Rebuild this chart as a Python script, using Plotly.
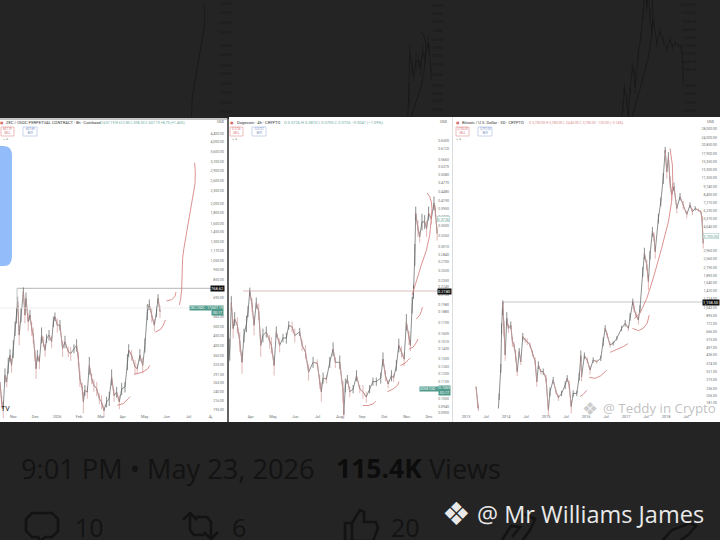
import math
import plotly.graph_objects as go

##### Chart values

# ZEC / USDC, x is months after Nov 1
zec_months = [-0.61, -0.53, -0.46, -0.38, -0.30, -0.23, -0.15, -0.08, 0, 0.08, 0.15, 0.20, 0.27, 0.35, 0.46, 0.53, 0.58, 0.68, 0.76, 0.84, 0.91, 0.99, 1.04, 1.10, 1.19, 1.29, 1.37, 1.45, 1.52, 1.63, 1.75, 1.83, 1.90, 2.01, 2.13, 2.25, 2.36, 2.51, 2.62, 2.77, 2.89, 2.97, 3.04, 3.15, 3.20, 3.27, 3.38, 3.47, 3.58, 3.68, 3.81, 3.93, 4.03, 4.14, 4.26, 4.38, 4.49, 4.60, 4.72, 4.84, 4.95, 5.10, 5.21, 5.27, 5.40, 5.56, 5.66, 5.78, 5.91, 6.01, 6.12, 6.21, 6.32, 6.44, 6.54, 6.61, 6.70]
zec_price = [267, 213, 197, 288, 267, 322, 361, 322, 389, 488, 568, 660, 453, 568, 740, 568, 685, 527, 568, 488, 453, 361, 310, 361, 335, 453, 420, 382, 436, 453, 420, 527, 557, 507, 507, 389, 420, 375, 368, 389, 404, 348, 277, 247, 213, 243, 238, 322, 277, 257, 247, 221, 213, 193, 213, 221, 282, 229, 238, 213, 247, 252, 335, 382, 361, 316, 310, 361, 322, 404, 590, 640, 568, 507, 590, 685, 590]
# wick size around each point, percent of price
zec_wick = [9, 7, 10, 8, 6, 9, 7, 8, 10, 8, 9, 6, 11, 8, 5, 9, 7, 10, 6, 8, 9, 7, 11, 6, 8, 9, 6, 7, 5, 6, 7, 6, 5, 8, 6, 9, 7, 6, 8, 5, 7, 8, 9, 7, 12, 6, 7, 10, 6, 7, 8, 6, 8, 7, 6, 8, 9, 7, 6, 8, 7, 6, 9, 7, 6, 8, 6, 7, 9, 8, 9, 6, 8, 7, 6, 5, 7]
zec_curves = [
    ([4.75, 5.02, 5.25, 5.33], [205, 209, 221, 226]),
    ([5.51, 5.86, 6.12, 6.24], [291, 297, 308, 322]),
    ([6.48, 6.73, 6.85, 6.94], [468, 484, 507, 537]),
    ([6.99, 7.23, 7.38, 7.43], [666, 676, 700, 737]),
    ([7.58, 7.64, 7.69, 7.73, 7.79, 7.99, 8.14, 8.30, 8.31, 8.28], [637, 675, 768, 1077, 1206, 1630, 2044, 2512, 2865, 3173]),
]
zec_ticks = [4400, 4000, 3600, 3200, 2900, 2600, 2300, 2000, 1800, 1600, 1450, 1300, 1170, 1050, 950, 850, 690, 560, 500, 450, 400, 360, 325, 291, 265, 240, 216, 195]
zec_months_ticks = [0, 1, 2, 3, 4, 5, 6, 7, 8, 9, 9.45]
zec_months_text = ["Nov", "Dec", "2026", "Feb", "Mar", "Apr", "May", "Jun", "Jul", "Aj", "Q"]

# DOGE / USD, x is months after Apr 1
doge_months = [-1.02, -0.94, -0.87, -0.79, -0.72, -0.60, -0.49, -0.39, -0.30, -0.19, -0.12, -0.04, 0.06, 0.15, 0.25, 0.36, 0.45, 0.55, 0.70, 0.85, 0.93, 1.05, 1.15, 1.30, 1.45, 1.60, 1.71, 1.86, 1.98, 2.20, 2.31, 2.46, 2.60, 2.80, 2.99, 3.10, 3.17, 3.25, 3.40, 3.55, 3.70, 3.80, 4.00, 4.15, 4.18, 4.25, 4.34, 4.45, 4.60, 4.75, 4.90, 5.04, 5.19, 5.34, 5.49, 5.64, 5.84, 5.94, 6.05, 6.17, 6.32, 6.42, 6.54, 6.65, 6.77, 6.89, 6.99, 7.11, 7.17, 7.25, 7.31, 7.37, 7.41, 7.51, 7.59, 7.69, 7.81, 7.90, 7.99, 8.11, 8.23, 8.29, 8.37]
doge_price = [0.124, 0.143, 0.200, 0.166, 0.178, 0.170, 0.151, 0.130, 0.158, 0.172, 0.188, 0.217, 0.197, 0.170, 0.200, 0.188, 0.147, 0.158, 0.162, 0.151, 0.147, 0.127, 0.162, 0.147, 0.155, 0.155, 0.170, 0.168, 0.158, 0.162, 0.147, 0.140, 0.121, 0.130, 0.129, 0.113, 0.105, 0.116, 0.115, 0.130, 0.143, 0.130, 0.130, 0.105, 0.089, 0.110, 0.115, 0.105, 0.107, 0.118, 0.107, 0.105, 0.101, 0.107, 0.113, 0.113, 0.116, 0.133, 0.118, 0.111, 0.118, 0.116, 0.127, 0.147, 0.140, 0.133, 0.174, 0.155, 0.147, 0.197, 0.217, 0.284, 0.383, 0.343, 0.323, 0.360, 0.360, 0.343, 0.383, 0.368, 0.412, 0.390, 0.331]
doge_wick = [6, 8, 5, 7, 5, 6, 7, 8, 5, 6, 4, 3, 5, 7, 4, 6, 8, 5, 4, 5, 6, 7, 4, 5, 3, 4, 3, 4, 5, 3, 4, 5, 6, 4, 3, 5, 7, 4, 3, 4, 5, 4, 5, 8, 3, 5, 3, 4, 3, 4, 3, 5, 4, 3, 3, 3, 4, 5, 4, 3, 4, 3, 4, 5, 4, 5, 6, 5, 4, 6, 5, 8, 5, 6, 4, 6, 5, 6, 5, 4, 5, 4, 5]
doge_curves = [
    ([5.04, 5.27, 5.49, 5.61], [0.095, 0.095, 0.096, 0.098]),
    ([6.14, 6.39, 6.59, 6.66], [0.105, 0.107, 0.110, 0.113]),
    ([6.72, 6.92, 7.07, 7.16], [0.127, 0.129, 0.132, 0.134]),
    ([7.11, 7.29, 7.44, 7.51], [0.143, 0.145, 0.150, 0.154]),
    ([7.44, 7.59, 7.66, 7.71], [0.178, 0.183, 0.188, 0.194]),
    ([7.25, 7.44, 7.66, 7.89, 8.04, 8.11, 8.14, 8.11, 8.04, 7.92], [0.212, 0.235, 0.263, 0.293, 0.328, 0.368, 0.397, 0.416, 0.432, 0.444]),
]
doge_ticks = [0.65, 0.612, 0.566, 0.537, 0.508, 0.477, 0.448, 0.419, 0.395, 0.373, 0.35, 0.326, 0.301, 0.284, 0.27, 0.253, 0.235, 0.224, 0.212, 0.198, 0.188, 0.173, 0.16, 0.151, 0.143, 0.133, 0.126, 0.12, 0.113, 0.1, 0.094, 0.09]
doge_months_ticks = [-1, 0, 1, 2, 3, 4, 5, 6, 7, 8]
doge_months_text = ["Mar", "Apr", "May", "Jun", "Jul", "Aug", "Sep", "Oct", "Nov", "Dec"]

# BTC / USD, x is the year
btc_years = [2013.25, 2013.29, 2013.31, 2013.50, 2013.81, 2013.83, 2013.87, 2013.89, 2013.91, 2013.92, 2013.95, 2013.98, 2014.02, 2014.06, 2014.12, 2014.16, 2014.20, 2014.24, 2014.28, 2014.33, 2014.37, 2014.42, 2014.48, 2014.53, 2014.60, 2014.66, 2014.73, 2014.77, 2014.81, 2014.87, 2014.93, 2015.00, 2015.06, 2015.10, 2015.18, 2015.25, 2015.31, 2015.39, 2015.48, 2015.53, 2015.58, 2015.63, 2015.68, 2015.77, 2015.83, 2015.87, 2015.89, 2015.96, 2016.03, 2016.10, 2016.18, 2016.27, 2016.37, 2016.43, 2016.48, 2016.53, 2016.60, 2016.68, 2016.77, 2016.89, 2016.98, 2017.06, 2017.10, 2017.17, 2017.20, 2017.25, 2017.31, 2017.35, 2017.42, 2017.46, 2017.52, 2017.56, 2017.60, 2017.66, 2017.70, 2017.73, 2017.81, 2017.87, 2017.93, 2017.98, 2018.02, 2018.06, 2018.10, 2018.14, 2018.20, 2018.27, 2018.35, 2018.43, 2018.52, 2018.60, 2018.66, 2018.73, 2018.81, 2018.87, 2018.90, 2018.93]
btc_price = [244, 174, 163, None, 163, 203, 342, 713, 969, 1158, 713, 436, 858, 713, 758, 558, 525, 436, 321, 464, 386, 612, 575, 558, 525, 450, 386, 267, 363, 321, 321, 284, 158, 222, 275, 222, 199, 215, 251, 284, 251, 169, 215, 215, 293, 431, 293, 431, 398, 331, 398, 386, 411, 558, 713, 631, 525, 541, 593, 713, 783, 713, 884, 1164, 1031, 911, 831, 1031, 2024, 2837, 2289, 1684, 2751, 4227, 3855, 2926, 5405, 7346, 11290, 19030, 12750, 16800, 10620, 8306, 9685, 6496, 8060, 6910, 5816, 6910, 6113, 6496, 6300, 6113, 5405, 3410]
btc_wick = [8, 6, 5, 0, 4, 6, 8, 10, 6, 3, 14, 10, 12, 8, 7, 9, 6, 10, 8, 7, 6, 7, 5, 6, 5, 6, 8, 9, 7, 5, 6, 7, 10, 8, 6, 5, 6, 5, 7, 6, 8, 12, 6, 5, 7, 10, 8, 6, 5, 8, 5, 4, 5, 8, 6, 5, 5, 4, 4, 5, 6, 5, 7, 6, 7, 6, 8, 6, 9, 11, 10, 14, 8, 9, 8, 12, 9, 8, 10, 6, 12, 9, 11, 10, 8, 9, 7, 8, 7, 5, 6, 4, 3, 3, 5, 9]
btc_curves = [
    ([2015.85, 2015.93, 2016.02], [203, 211, 228]),
    ([2016.08, 2016.23, 2016.37, 2016.52], [289, 284, 298, 331]),
    ([2016.60, 2016.77, 2016.93, 2017.05], [458, 484, 509, 538]),
    ([2017.16, 2017.31, 2017.43, 2017.53, 2017.58], [713, 684, 713, 783, 911]),
    ([2017.21, 2017.35, 2017.52, 2017.68, 2017.89, 2018.06, 2018.14, 2018.17, 2018.16, 2018.10], [858, 940, 1239, 1790, 3110, 5083, 7346, 10620, 14440, 19620]),
]
btc_ticks = [28000, 24000, 20850, 17900, 15350, 13300, 11350, 9740, 8400, 7210, 6230, 5370, 4640, 3980, 2960, 2560, 2190, 1890, 1640, 1420, 1224, 1043, 895, 772, 666, 575, 497, 436, 374, 321, 275, 236, 206, 181]
btc_years_ticks = [2013, 2013.5, 2014, 2014.5, 2015, 2015.5, 2016, 2016.5, 2017, 2017.5, 2018, 2018.5]
btc_years_text = ["2013", "Jul", "2014", "Jul", "2015", "Jul", "2016", "Jul", "2017", "Jul", "2018", "Jul"]

# Resistance levels and last prices
zec_level, zec_level_start = 768.62, 0.18
doge_level, doge_level_start = 0.218, -0.34
btc_level, btc_level_start = 1158.5, 2013.92
zec_last = 607.19

##### Colours and page geometry
W, H = 720, 540
DARK = "#242424"
GHOST = "#171717"
INK = "#5a5f5f"
PINK = "#d79a9a"
CURVE = "#d98585"
TICK = "#6b6f70"
GREEN = "#4f9a8b"


def fx(px):
    return px / W


def fy(py):
    return 1 - py / H


def poly(points, closed=False):
    s = "M " + " L ".join(f"{fx(x):.5f},{fy(y):.5f}" for x, y in points)
    return s + (" Z" if closed else "")


def falling(xs, ys):
    # Only the down moves, these show up pink in the original candles
    out_x, out_y = [], []
    for i in range(1, len(xs)):
        if ys[i] is None or ys[i - 1] is None:
            continue
        if ys[i] < ys[i - 1]:
            out_x += [xs[i - 1], xs[i], None]
            out_y += [ys[i - 1], ys[i], None]
    return out_x, out_y


def wicks(xs, ys, sizes, want_down):
    # Vertical wick at each point, split by direction of the move into it
    out_x, out_y = [], []
    for i in range(1, len(xs)):
        if ys[i] is None or ys[i - 1] is None:
            continue
        if (ys[i] < ys[i - 1]) == want_down:
            out_x += [xs[i], xs[i], None]
            out_y += [ys[i] * (1 - sizes[i] / 100), ys[i] * (1 + sizes[i] / 100), None]
    return out_x, out_y


# px = x0 + x_scale * x, log10(price) = y_ref - (py - py_ref) * y_scale
panels = [
    dict(name="zec", left=0, right=227, xs=zec_months, ys=zec_price, wick=zec_wick, curves=zec_curves, ticks=zec_ticks,
         xt=zec_months_ticks, xl=zec_months_text, x0=13.3, xk=21.9, ref=math.log10(768.62), py_ref=288.3,
         yk=0.004905, fmt=lambda v: f"{v:,.2f}", level=zec_level, start=zec_level_start, level_color="#c4c4c4",
         ghost=(0, 235, 9.5, -158)),
    dict(name="doge", left=229, right=452, xs=doge_months, ys=doge_price, wick=doge_wick, curves=doge_curves, ticks=doge_ticks,
         xt=doge_months_ticks, xl=doge_months_text, x0=250.7, xk=22.27, ref=math.log10(0.218), py_ref=291,
         yk=0.00315, fmt=lambda v: f"{v:.4f}", level=doge_level, start=doge_level_start, level_color="#dcbcbc",
         ghost=(235, 446, -6, -161)),
    dict(name="btc", left=453, right=720, xs=btc_years, ys=btc_price, wick=btc_wick, curves=btc_curves, ticks=btc_ticks,
         xt=btc_years_ticks, xl=btc_years_text, x0=506 - 2014 * 40, xk=40.0, ref=math.log10(1158.5), py_ref=302,
         yk=0.008, fmt=lambda v: f"{v:,.2f}", level=btc_level, start=btc_level_start, level_color="#c8c8c8",
         ghost=(446, 699, -20, -165)),
]

TOP, BOTTOM = 119, 422
GHOST_BOTTOM = 117

fig = go.Figure()
axes = {}
n = 1


def add_line(xs, ys, color, width, xa, ya):
    fig.add_trace(go.Scatter(x=xs, y=ys, mode="lines", line=dict(color=color, width=width), xaxis=xa, yaxis=ya,
                             hoverinfo="skip", showlegend=False, connectgaps=False))


for p in panels:
    # visible chart
    suffix = "" if n == 1 else str(n)
    xa, ya = "x" + suffix, "y" + suffix
    axes["xaxis" + suffix] = dict(
        domain=[fx(p["left"]), fx(p["right"])], anchor=ya, showgrid=False, zeroline=False, showline=False,
        range=[(p["left"] - p["x0"]) / p["xk"], (p["right"] - p["x0"]) / p["xk"]],
        tickmode="array", tickvals=p["xt"], ticktext=p["xl"], ticks="", ticklabelposition="inside",
        tickfont=dict(family="Roboto", size=3.9, color=TICK))
    axes["yaxis" + suffix] = dict(
        domain=[fy(BOTTOM), fy(TOP)], anchor=xa, side="right", type="log", showgrid=False, zeroline=False,
        showline=False, range=[p["ref"] - (BOTTOM - p["py_ref"]) * p["yk"], p["ref"] + (p["py_ref"] - TOP) * p["yk"]],
        tickmode="array", tickvals=p["ticks"], ticktext=[p["fmt"](v) for v in p["ticks"]], ticks="",
        ticklabelposition="inside", tickfont=dict(family="Roboto", size=3.5, color=TICK))
    add_line([p["start"], p["xs"][-1] + (p["right"] - p["xs"][-1] * p["xk"] - p["x0"] - 14) / p["xk"]],
             [p["level"], p["level"]], p["level_color"], 1.2, xa, ya)
    up_x, up_y = wicks(p["xs"], p["ys"], p["wick"], False)
    add_line(up_x, up_y, INK, 0.7, xa, ya)
    down_x, down_y = wicks(p["xs"], p["ys"], p["wick"], True)
    add_line(down_x, down_y, PINK, 0.7, xa, ya)
    add_line(p["xs"], p["ys"], INK, 0.7, xa, ya)
    fall_x, fall_y = falling(p["xs"], p["ys"])
    add_line(fall_x, fall_y, PINK, 0.7, xa, ya)
    for cx, cy in p["curves"]:
        add_line(cx, cy, CURVE, 0.9, xa, ya)
    n += 1

    # the same chart again, dimmed behind the overlay above the picture
    g_left, g_right, dx, dy = p["ghost"]
    suffix = str(n)
    xa, ya = "x" + suffix, "y" + suffix
    axes["xaxis" + suffix] = dict(
        domain=[fx(g_left), fx(g_right)], anchor=ya, showgrid=False, zeroline=False, showline=False, showticklabels=False,
        range=[(g_left - dx - p["x0"]) / p["xk"], (g_right - dx - p["x0"]) / p["xk"]])
    axes["yaxis" + suffix] = dict(
        domain=[fy(GHOST_BOTTOM), fy(0)], anchor=xa, side="right", type="log", showgrid=False, zeroline=False,
        showline=False, range=[p["ref"] - (GHOST_BOTTOM - dy - p["py_ref"]) * p["yk"], p["ref"] + (p["py_ref"] + dy) * p["yk"]],
        tickmode="array", tickvals=p["ticks"], ticktext=[p["fmt"](v) for v in p["ticks"]], ticks="",
        ticklabelposition="inside", tickfont=dict(family="Roboto", size=3.5, color=GHOST))
    add_line(up_x, up_y, GHOST, 0.6, xa, ya)
    add_line(down_x, down_y, GHOST, 0.6, xa, ya)
    add_line(p["xs"], p["ys"], GHOST, 0.7, xa, ya)
    add_line(p["curves"][-1][0], p["curves"][-1][1], GHOST, 0.8, xa, ya)
    n += 1

shapes = [
    dict(type="rect", xref="paper", yref="paper", x0=0, x1=fx(227), y0=fy(422), y1=fy(118), fillcolor="white", line_width=0, layer="below"),
    dict(type="rect", xref="paper", yref="paper", x0=fx(229), x1=fx(452), y0=fy(422), y1=fy(117), fillcolor="white", line_width=0, layer="below"),
    dict(type="rect", xref="paper", yref="paper", x0=fx(453), x1=1, y0=fy(422), y1=fy(117), fillcolor="white", line_width=0, layer="below"),
    dict(type="rect", xref="paper", yref="paper", x0=fx(452), x1=fx(453), y0=fy(422), y1=fy(117), fillcolor="#dddddd", line_width=0, layer="below"),
    dict(type="line", xref="paper", yref="paper", x0=0, x1=fx(228), y0=fy(119), y1=fy(119), line=dict(color="#8a8a8a", width=1)),
    dict(type="line", xref="paper", yref="paper", x0=fx(228), x1=fx(228), y0=fy(119), y1=fy(422), line=dict(color="#777777", width=1.5)),
    dict(type="line", xref="paper", yref="paper", x0=fx(17), x1=fx(17), y0=fy(288), y1=fy(306), line=dict(color="#c4c4c4", width=1)),
    dict(type="line", xref="paper", yref="paper", x0=0, x1=fx(210), y0=fy(308), y1=fy(308), line=dict(color="#e6e6e6", width=0.7)),
    # blue block on the left
    dict(type="path", xref="paper", yref="paper", fillcolor="#93bcfb", line_width=0,
         path=f"M 0,{fy(146):.5f} L {fx(4):.5f},{fy(146):.5f} Q {fx(12):.5f},{fy(146):.5f} {fx(12):.5f},{fy(156):.5f} "
              f"L {fx(12):.5f},{fy(256):.5f} Q {fx(12):.5f},{fy(266):.5f} {fx(4):.5f},{fy(266):.5f} L 0,{fy(266):.5f} Z"),
]

# sell / buy boxes in the chart headers
for left in (1, 230, 456):
    shapes.append(dict(type="rect", xref="paper", yref="paper", x0=fx(left), x1=fx(left + 13), y0=fy(136), y1=fy(127),
                       fillcolor="rgba(0,0,0,0)", line=dict(color="#e6a0a0", width=0.7)))
    shapes.append(dict(type="rect", xref="paper", yref="paper", x0=fx(left + 22), x1=fx(left + 36), y0=fy(136), y1=fy(127),
                       fillcolor="rgba(0,0,0,0)", line=dict(color="#b5c3e6", width=0.7)))

# faint reaction icons in the dark footer
icon = dict(type="path", xref="paper", yref="paper", fillcolor="rgba(0,0,0,0)", line=dict(color="#131313", width=2.6))
for pts, closed in [
    ([(32, 513), (52, 513), (58, 519), (58, 531), (52, 537), (45, 537), (40, 541), (38, 537), (32, 537), (26, 531), (26, 519)], True),
    ([(183, 520), (190, 513), (197, 520)], False),
    ([(190, 513), (190, 530), (194, 535), (205, 535)], False),
    ([(218, 532), (211, 539), (204, 532)], False),
    ([(211, 539), (211, 522), (207, 517), (196, 517)], False),
    ([(345, 523), (352, 523), (352, 541), (345, 541)], True),
    ([(352, 523), (360, 510), (364, 512), (364, 522), (376, 522), (378, 528), (373, 541), (352, 541)], False),
    ([(502, 540), (511, 526), (520, 527), (512, 537)], False),
    ([(524, 514), (535, 519), (530, 530), (522, 541)], False),
    ([(662, 541), (672, 530), (690, 523), (696, 526), (688, 535), (678, 542)], False),
]:
    shapes.append(dict(icon, path=poly(pts, closed)))


def label(px, py, text, size, color, anchor="left", font="Open Sans", **kw):
    return dict(x=fx(px), y=fy(py), xref="paper", yref="paper", text=text, showarrow=False, xanchor=anchor,
                yanchor="middle", font=dict(family=font, size=size, color=color), borderpad=0, **kw)


annotations = [
    # chart headers
    label(1.5, 123, "●", 4, "#d9746f", anchor="center", font="DejaVu Sans"),
    label(232, 123, "●", 4, "#d9746f", anchor="center", font="DejaVu Sans"),
    label(457.5, 123, "●", 4, "#d9746f", anchor="center", font="DejaVu Sans"),
    label(5, 123, "ZEC / USDC PERPETUAL CONTRACT · 8h · Coinbase", 4.1, "#333333", font="Roboto"),
    label(99, 123, "O 607.19 H 612.85 L 598.30 C 607.19 +8.75 (+1.46%)", 3.6, "#6fa89f", font="Roboto"),
    label(236, 123, "Dogecoin · 4h · CRYPTO", 4.1, "#333333", font="Roboto"),
    label(283, 123, "O 0.3726 H 0.3810 L 0.3705 C 0.3726 −0.0041 (−1.09%)", 4, "#6fa89f", font="Roboto"),
    label(461, 123, "Bitcoin / U.S. Dollar · 3D · CRYPTO", 4.1, "#333333", font="Roboto"),
    label(528, 123, "O 3,700.00 H 3,780.00 L 3,640.00 C 3,700.00 −120.00 (−3.14%)", 3.4, "#d98a8a", font="Roboto"),
    label(216, 122, "USD", 3.6, "#555555", font="Roboto"),
    label(439, 122, "USD", 3.6, "#555555", font="Roboto"),
    label(706, 122, "USD", 3.6, "#555555", font="Roboto"),
    label(7.5, 131.5, "607.19<br>SELL", 2.8, "#d46a6a", anchor="center", font="Roboto"),
    label(30, 131.5, "607.69<br>BUY", 2.8, "#6a84c4", anchor="center", font="Roboto"),
    label(236.5, 131.5, "0.3726<br>SELL", 2.8, "#d46a6a", anchor="center", font="Roboto"),
    label(259, 131.5, "0.3727<br>BUY", 2.8, "#6a84c4", anchor="center", font="Roboto"),
    label(462.5, 131.5, "3,700.00<br>SELL", 2.8, "#d46a6a", anchor="center", font="Roboto"),
    label(485, 131.5, "3,701.00<br>BUY", 2.8, "#6a84c4", anchor="center", font="Roboto"),
    label(5, 139, "~ ∧", 3, "#555555", anchor="center", font="Roboto"),
    label(234, 139, "~ ∧", 3, "#555555", anchor="center", font="Roboto"),
    label(459, 139, "~ ∧", 3, "#555555", anchor="center", font="Roboto"),
    label(0, 409, "TV", 7, "#111111", font="Roboto"),
    # price tags
    label(217.5, 288.5, "768.62", 4, "white", anchor="center", font="Roboto", bgcolor="#111111"),
    label(200, 308, "ZEC USDC · 17", 3.2, "white", anchor="center", font="Roboto", bgcolor=GREEN),
    label(217.5, 310, f"{zec_last:.2f}<br>00:17", 3.6, "white", anchor="center", font="Roboto", bgcolor=GREEN),
    label(444, 291, "0.2180", 4, "white", anchor="center", font="Roboto", bgcolor="#111111"),
    label(430, 389, "DOGE USD · 17", 3.2, "white", anchor="center", font="Roboto", bgcolor=GREEN),
    label(444.5, 390, "0.1063<br>02:17", 3.6, "white", anchor="center", font="Roboto", bgcolor=GREEN),
    label(443, 219, "0.3726", 3.8, "#5f9c90", anchor="center", font="Roboto", bgcolor="white", bordercolor="#9cc8bf", borderwidth=0.5),
    label(711, 302, "1,158.50", 4, "white", anchor="center", font="Roboto", bgcolor="#111111"),
    label(711, 236, "3,700.00", 3.8, "#5f9c90", anchor="center", font="Roboto", bgcolor="white", bordercolor="#9cc8bf", borderwidth=0.5),
    # watermarks
    label(590, 408, "❖", 18, "rgba(170,170,170,0.6)", anchor="center", font="DejaVu Sans"),
    label(602, 408, "@ Teddy in Crypto", 13.3, "rgba(165,165,165,0.7)"),
    label(456, 514, "❖", 32, "#e9e9e9", anchor="center", font="DejaVu Sans"),
    label(476, 514, "@ Mr Williams James", 23.5, "#e9e9e9"),
    # tweet footer
    label(20, 468, "9:01 PM • May 23, 2026", 27.2, "#131313"),
    label(335, 468, "<b>115.4K</b>", 26.5, "#0c0c0c"),
    label(428, 468, "Views", 27, "#131313"),
    label(74, 527, "10", 25, "#131313"),
    label(231, 527, "6", 25, "#131313"),
    label(390, 527, "20", 25, "#131313"),
]

fig.update_layout(width=W, height=H, autosize=False, margin=dict(l=0, r=0, t=0, b=0), paper_bgcolor=DARK,
                  plot_bgcolor="rgba(0,0,0,0)", showlegend=False, shapes=shapes, annotations=annotations, **axes)

# drop the page margin so the figure starts at the window corner
fig.write_html("out.html", config=dict(displayModeBar=False),
               post_script="document.body.style.margin='0';document.documentElement.style.overflow='hidden';")
